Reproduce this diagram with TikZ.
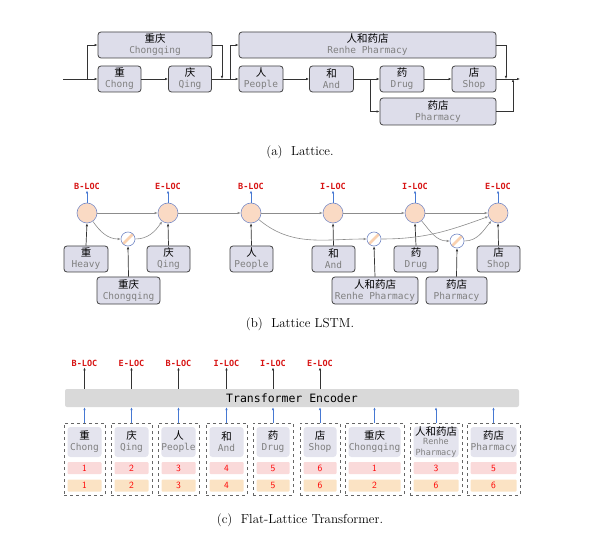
\documentclass[tikz,border=0pt]{standalone}
\usepackage{fontspec}
\newfontfamily\cjk{Noto Sans CJK SC}
\newfontfamily\mono{DejaVu Sans Mono}
\usetikzlibrary{arrows.meta,calc}
\definecolor{boxfill}{RGB}{221,221,234}
\definecolor{cfill}{RGB}{250,218,196}
\definecolor{cdraw}{RGB}{120,140,200}
\definecolor{pinkf}{RGB}{250,218,218}
\definecolor{orf}{RGB}{251,227,196}
\definecolor{encf}{RGB}{217,217,217}
\definecolor{lab}{RGB}{215,20,20}
\definecolor{blu}{RGB}{70,120,210}
\newcommand{\wt}[2]{{\cjk\fontsize{10.5}{11}\selectfont #1}\\[-1pt]{\mono\color{black!50}\fontsize{9.5}{10}\selectfont #2}}
\tikzset{
 wbox/.style={draw=black!75,fill=boxfill,rounded corners=3pt,line width=0.8pt,inner sep=0pt,align=center,minimum height=26pt},
 ar/.style={-{Latex[length=3pt,width=2.5pt]},line width=0.7pt,black!80},
 gar/.style={-{Latex[length=3pt,width=2.5pt]},line width=0.6pt,black!45},
 bar/.style={-{Latex[length=3pt,width=2.5pt]},line width=0.6pt,blu},
 cell/.style={circle,draw=cdraw,fill=cfill,minimum size=20pt,inner sep=0pt,line width=0.6pt},
 gate/.style={circle,draw=cdraw,fill=white,minimum size=14pt,inner sep=0pt,line width=0.6pt,
   path picture={\draw[line width=2.5pt,color=cfill!90!orange] ([shift={(2pt,2pt)}]path picture bounding box.south west) -- ([shift={(-2pt,-2pt)}]path picture bounding box.north east);}},
 lbl/.style={font=\mono\bfseries\fontsize{8.5}{9}\selectfont,text=lab,inner sep=1pt},
 grp/.style={draw=black!60,dashed,line width=0.8pt,minimum height=72pt,inner sep=0pt},
 tok/.style={fill=boxfill!80,rounded corners=3pt,inner sep=0pt,align=center,minimum height=30pt},
 num/.style={rounded corners=1pt,inner sep=0pt,minimum height=12pt,font=\sffamily\fontsize{9.5}{10}\selectfont,text=red},
 captxt/.style={font=\fontsize{13}{15}\selectfont}
}
\begin{document}
\begin{tikzpicture}[x=1pt,y=-1pt]
\useasboundingbox (0,0) rectangle (600,548);
% ---------- (a)
\node[wbox,minimum width=114pt] (cq) at (155,45) {\wt{重庆}{Chongqing}};
\node[wbox,minimum width=43pt] (ch) at (119.5,79) {\wt{重}{Chong}};
\node[wbox,minimum width=43pt] (qi) at (190,79) {\wt{庆}{Qing}};
\node[wbox,minimum width=257pt] (rh) at (367.5,45) {\wt{人和药店}{Renhe Pharmacy}};
\node[wbox,minimum width=44pt] (pe) at (261,79) {\wt{人}{People}};
\node[wbox,minimum width=44pt] (an) at (331.5,79) {\wt{和}{And}};
\node[wbox,minimum width=44pt] (dr) at (402,79) {\wt{药}{Drug}};
\node[wbox,minimum width=44pt] (sh) at (474,79) {\wt{店}{Shop}};
\node[wbox,minimum width=116pt,minimum height=27pt] (ph) at (438,111.5) {\wt{药店}{Pharmacy}};
\coordinate (s0) at (63,79);
\coordinate (j1) at (222,79);
\coordinate (e1) at (506,79);
\coordinate (e2) at (513,79);
\coordinate (e3) at (520,79);
\draw[ar] (s0) -- (ch.west);
\draw[ar] (87,79) |- (cq.west);
\draw[ar] (ch.east) -- (qi.west);
\draw[ar] (cq.east) -| (j1);
\draw[ar] (qi.east) -- (pe.west);
\draw[ar] (230,79) |- (rh.west);
\draw[ar] (pe.east) -- (an.west);
\draw[ar] (an.east) -- (dr.west);
\draw[ar] (370,79) |- (ph.west);
\draw[ar] (dr.east) -- (sh.west);
\draw[ar] (sh.east) -- (e3);
\draw[ar] (rh.east) -| (e1);
\draw[ar] (ph.east) -| (e2);
\node[captxt] (capa) at (300,152) {(a)\ \ Lattice.};
% ---------- (b)
\foreach \i/\x/\l in {1/87/B-LOC,2/168/E-LOC,3/251/B-LOC,4/333/I-LOC,5/415/I-LOC,6/498/E-LOC}{
  \node[cell] (c\i) at (\x,213) {};
  \node[lbl] (l\i) at (\x,186) {\l};
  \draw[bar] (c\i.north) -- (l\i.south);
}
\foreach \i/\j in {1/2,2/3,3/4,4/5,5/6}{\draw[gar] (c\i) -- (c\j);}
\node[gate] (g1) at (128,239) {};
\node[gate] (g2) at (374,239) {};
\node[gate] (g3) at (457,241) {};
\node[wbox,minimum width=44pt] (w1) at (86,259) {\wt{重}{Heavy}};
\node[wbox,minimum width=43pt] (w2) at (168.5,259) {\wt{庆}{Qing}};
\node[wbox,minimum width=43pt] (w3) at (251.5,259) {\wt{人}{People}};
\node[wbox,minimum width=43pt] (w4) at (333.5,259) {\wt{和}{And}};
\node[wbox,minimum width=44pt] (w5) at (416,259) {\wt{药}{Drug}};
\node[wbox,minimum width=43pt] (w6) at (498.5,259) {\wt{店}{Shop}};
\node[wbox,minimum width=63pt,minimum height=27pt] (b1) at (128.5,290.5) {\wt{重庆}{Chongqing}};
\node[wbox,minimum width=86pt,minimum height=27pt] (b2) at (375,290.5) {\wt{人和药店}{Renhe Pharmacy}};
\node[wbox,minimum width=61pt,minimum height=27pt] (b3) at (456.5,290.5) {\wt{药店}{Pharmacy}};
\foreach \i in {1,...,6}{\draw[ar] (w\i.north) -- (c\i.south);}
\draw[ar] (b1.north) -- (g1.south);
\draw[ar] (b2.north) -- (g2.south);
\draw[ar] (b3.north) -- (g3.south);
\draw[gar] (c1) to[out=-55,in=180] (g1);
\draw[gar] (g1) to[out=0,in=-125] (c2);
\draw[gar] (c3) to[out=-40,in=180] (g2);
\draw[gar] (g2) to[out=0,in=-160] (c6);
\draw[gar] (c5) to[out=-50,in=180] (g3);
\draw[gar] (g3) to[out=0,in=-130] (c6);
\node[captxt] (capb) at (300,324) {(b)\ \ Lattice LSTM.};
% ---------- (c)
\node[fill=encf,rounded corners=2pt,minimum width=454pt,minimum height=18pt,inner sep=0pt,font=\mono\fontsize{11.5}{12}\selectfont] (enc) at (292,398) {Transformer Encoder};
\foreach \i/\x/\w/\cn/\en/\p/\q in {
 1/84.5/41/重/Chong/1/1, 2/131.5/41/庆/Qing/2/2, 3/178.5/41/人/People/3/3,
 4/226.5/41/和/And/4/4, 5/273/40/药/Drug/5/5, 6/320/40/店/Shop/6/6,
 7/374.5/59/重庆/Chongqing/1/2, 9/493.5/53/药店/Pharmacy/5/6}{
  \node[grp,minimum width=\w pt] (gp\i) at (\x,459) {};
  \node[tok,minimum width=\w pt-7pt] (tk\i) at (\x,442) {\wt{\cn}{\en}};
  \node[num,fill=pinkf,minimum width=\w pt-7pt] (pa\i) at (\x,468) {\p};
  \node[num,fill=orf,minimum width=\w pt-7pt] (pb\i) at (\x,485.5) {\q};
  \draw[bar] (gp\i.north) -- (gp\i.north |- enc.south);
}
\node[grp,minimum width=52pt] (gp8) at (436,459) {};
\node[tok,minimum width=45pt] (tk8) at (436,442) {{\cjk\fontsize{10.5}{11}\selectfont 人和药店}\\[-3pt]{\mono\color{black!50}\fontsize{8.5}{8}\selectfont Renhe}\\[-1pt]{\mono\color{black!50}\fontsize{8.5}{9}\selectfont Pharmacy}};
\node[num,fill=pinkf,minimum width=45pt] (pa8) at (436,468) {3};
\node[num,fill=orf,minimum width=45pt] (pb8) at (436,485.5) {6};
\draw[bar] (gp8.north) -- (gp8.north |- enc.south);
\foreach \i/\l in {1/B-LOC,2/E-LOC,3/B-LOC,4/I-LOC,5/I-LOC,6/E-LOC}{
  \node[lbl] (o\i) at (gp\i.center |- 0,363) {\l};
  \draw[ar] (enc.north -| o\i) -- (o\i.south);
}
\node[captxt] (capc) at (300,520) {(c)\ \ Flat-Lattice Transformer.};
\end{tikzpicture}
\end{document}
